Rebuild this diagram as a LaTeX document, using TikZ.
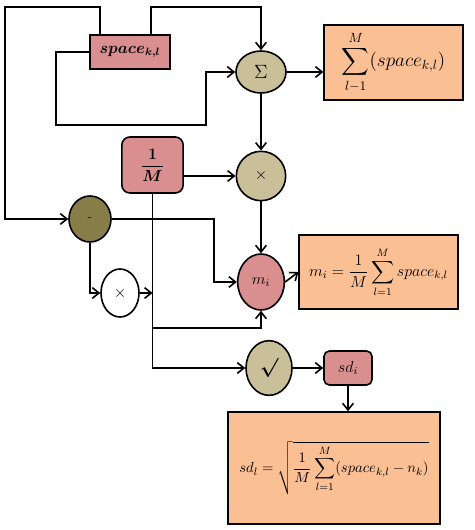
\documentclass[tikz,border=0pt]{standalone}
\usepackage{amsmath}
\usepackage{bm}
\usetikzlibrary{shapes.geometric,arrows.meta}
\definecolor{pinkf}{RGB}{217,143,143}
\definecolor{tanf}{RGB}{201,191,152}
\definecolor{olivef}{RGB}{135,125,72}
\definecolor{peachf}{RGB}{250,192,148}
\begin{document}
\begin{tikzpicture}[x=0.75pt,y=-0.75pt,line width=1.2pt,
  arr/.style={-{Straight Barb[length=5pt,width=8pt,line width=1.2pt]}},
  circ/.style={ellipse,draw,inner sep=0pt,font=\large},
  rbox/.style={rectangle,draw,inner sep=0pt,fill=pinkf},
  fbox/.style={rectangle,draw,inner sep=0pt,fill=peachf,font=\large}]
\useasboundingbox (0,0) rectangle (474,530);
% nodes
\node[rbox,minimum width=60pt,minimum height=25.5pt,font=\large] (space) at (130,52) {$\bm{space}_{\bm{k,l}}$};
\node[circ,fill=tanf,minimum width=37.5pt,minimum height=31.5pt,font=\Large] (sigma) at (261,72) {$\Sigma$};
\node[fbox,minimum width=104pt,minimum height=56pt,font=\Large] (sumbox) at (393.5,62.5) {$\displaystyle\sum_{l-1}^{M}(space_{k,l})$};
\node[rbox,rounded corners=6pt,minimum width=46pt,minimum height=42pt] (onem) at (152.5,165) {\large$\dfrac{\mathbf{1}}{\bm{M}}$};
\node[circ,fill=tanf,minimum width=37pt,minimum height=37pt] (times1) at (261,176) {$\times$};
\node[circ,fill=olivef,minimum width=31.5pt,minimum height=34.5pt] (minus) at (90,219) {\small -};
\node[circ,fill=white,minimum width=28.5pt,minimum height=36pt] (timesw) at (120,293) {$\times$};
\node[circ,fill=pinkf,minimum width=35pt,minimum height=42pt] (mi) at (261,282) {$m_i$};
\node[fbox,minimum width=119pt,minimum height=55.5pt] (mbox) at (378.5,272) {$m_i=\dfrac{1}{M}\displaystyle\sum_{l=1}^{M}space_{k,l}$};
\node[circ,fill=tanf,minimum width=34.5pt,minimum height=41pt,font=\Large] (sqrtn) at (269,368) {$\bm\surd$};
\node[rbox,rounded corners=4pt,minimum width=36pt,minimum height=25.5pt] (sd) at (348,368) {\large$sd_i$};
\node[fbox,minimum width=159pt,minimum height=84pt,font=\fontsize{11}{13}\selectfont] (sdbox) at (334,468) {$sd_l=\sqrt{\dfrac{1}{M}\displaystyle\sum_{l=1}^{M}(space_{k,l}-n_k)}$};
% coordinates
\coordinate (a1) at (100,7);
\coordinate (a2) at (5,7);
\coordinate (b1) at (151,7);
\coordinate (c1) at (56,125);
\coordinate (c2) at (206,125);
\coordinate (d1) at (214,0);
\coordinate (e1) at (152.5,328);
% connectors
\draw[arr] (space.north -| a1) -- (a1) -- (a2) |- (minus.west);
\draw[arr] (space.north -| b1) -- (b1) -| (sigma.north);
\draw[arr] (space.west) -| (c1) -- (c2) |- (sigma.west);
\draw[arr] (sigma.east) -- (sigma.east -| sumbox.west);
\draw[arr] (sigma.south) -- (times1.north);
\draw[arr] (onem.east |- times1.west) -- (times1.west);
\draw[arr] (times1.south) -- (mi.north);
\draw[arr] (minus.east) -- (minus.east -| d1) |- (mi.west);
\draw[arr] (minus.south) |- (timesw.west);
\draw[arr] (timesw.east) -- (timesw.east -| onem.south);
\draw[arr] (onem.south) |- (sqrtn.west);
\draw[arr] (e1) -| (mi.south);
\draw[arr] (mi.east) -- (mbox.west);
\draw[arr] (sqrtn.east) -- (sd.west);
\draw[arr] (sd.south) -- (sd.south |- sdbox.north);
\end{tikzpicture}
\end{document}
